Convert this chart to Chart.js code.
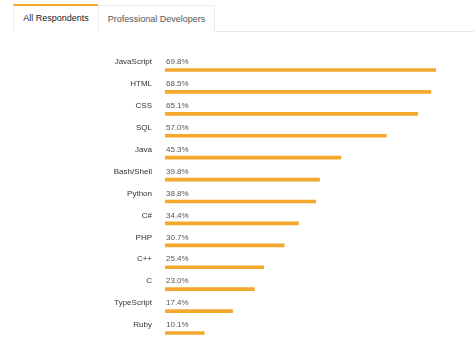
<!DOCTYPE html>
<html>
<head>
<meta charset="utf-8">
<script src="https://cdn.jsdelivr.net/npm/chart.js@4"></script>
<style>
  body { margin: 0; background: #fff; font-family: "Liberation Sans", Arial, sans-serif; }
  #wrap { position: relative; width: 474px; height: 344px; overflow: hidden; }
  #chart { position: absolute; left: 0; top: 0; }
  .tabs { position: absolute; left: 0; top: 0; width: 474px; height: 32px; }
  .tab { position: absolute; top: 5px; height: 26px; box-sizing: border-box; font-size: 9px;
         color: #444; text-align: center; line-height: 26px; background: #fff; }
  .tab.active { left: 13px; width: 85px; top: 4px; height: 28px; border-top: 2px solid #f4a82c;
                border-left: 1px solid #ececec; color: #222; line-height: 25px; }
  .tab.other { left: 98px; width: 117px; border: 1px solid #ececec; border-bottom: none; color: #555; }
  .line { position: absolute; left: 214px; top: 31px; width: 260px; height: 1px; background: #e8e8e8; }
</style>
</head>
<body>
<div id="wrap">
  <canvas id="chart" width="474" height="344"></canvas>
  <div class="tabs">
    <div class="tab active">All Respondents</div>
    <div class="tab other">Professional Developers</div>
    <div class="line"></div>
  </div>
</div>
<script>
const languages = ["JavaScript", "HTML", "CSS", "SQL", "Java", "Bash/Shell", "Python",
                   "C#", "PHP", "C++", "C", "TypeScript", "Ruby"];
const shares = [69.8, 68.5, 65.1, 57.0, 45.3, 39.8, 38.8, 34.4, 30.7, 25.4, 23.0, 17.4, 10.1];

const barColor = "#f4a82c";

// value text above each bar
const valueLabels = {
    id: "valueLabels",
    afterDatasetsDraw(chart) {
        const ctx = chart.ctx;
        const meta = chart.getDatasetMeta(0);
        ctx.save();
        ctx.font = "8px 'Liberation Sans', Arial, sans-serif";
        ctx.fillStyle = "#555";
        ctx.textAlign = "left";
        ctx.textBaseline = "middle";
        meta.data.forEach((bar, i) => {
            ctx.fillText(shares[i].toFixed(1) + "%", bar.base + 1, bar.y - 8);
        });
        ctx.restore();
    }
};

new Chart(document.getElementById("chart"), {
    type: "bar",
    data: {
        labels: languages,
        datasets: [{
            data: shares,
            backgroundColor: barColor,
            barThickness: 3,
            borderWidth: 0
        }]
    },
    options: {
        indexAxis: "y",
        responsive: false,
        animation: false,
        layout: { padding: { top: 59, bottom: 0, right: 38, left: 0 } },
        plugins: { legend: { display: false }, tooltip: { enabled: false } },
        scales: {
            x: {
                min: 0,
                max: 69.8,
                display: false
            },
            y: {
                afterFit(scale) {
                    scale.width = 165;
                    scale.paddingTop = 0;
                    scale.paddingBottom = 0;
                },
                grid: { display: false, drawTicks: false },
                border: { display: false },
                ticks: {
                    padding: 13,
                    labelOffset: -8,
                    color: "#333",
                    font: { family: "'Liberation Sans', Arial, sans-serif", size: 8 }
                }
            }
        }
    },
    plugins: [valueLabels]
});
</script>
</body>
</html>
